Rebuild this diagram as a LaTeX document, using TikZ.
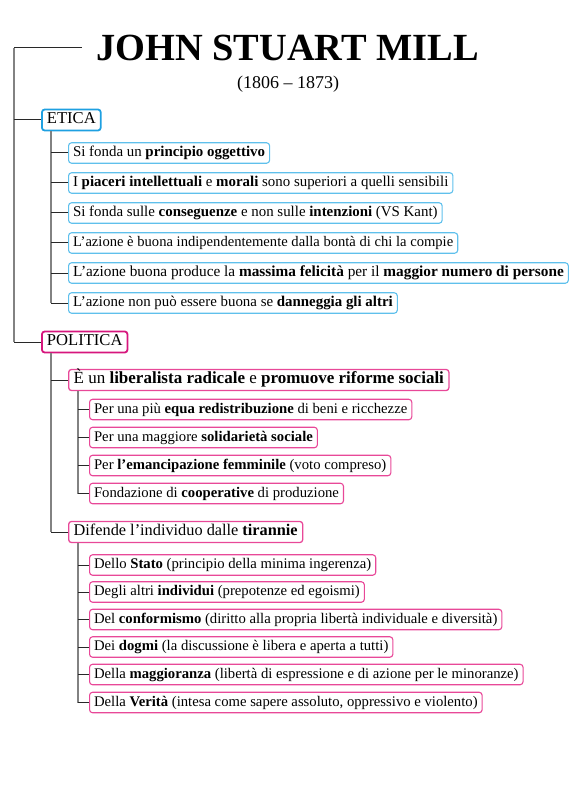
\documentclass[tikz,border=0pt]{standalone}
\usepackage{fontspec}
\setmainfont{Liberation Serif}
\usepackage{xcolor}
\usetikzlibrary{calc}
\definecolor{eticablu}{RGB}{30,160,225}
\definecolor{voceblu}{RGB}{95,192,236}
\definecolor{politrosa}{RGB}{214,22,125}
\definecolor{vocerosa}{RGB}{232,72,152}
\definecolor{ramo}{RGB}{40,40,40}
\definecolor{tronco}{RGB}{130,130,130}
\tikzstyle{capo} = [rectangle, draw, rounded corners=3pt, line width=1.8pt, inner xsep=5pt, minimum height=21pt, text height=11pt, text depth=3.5pt, font=\fontsize{16.6}{18}\selectfont]
\tikzstyle{voce} = [rectangle, draw, rounded corners=3pt, line width=1.1pt, inner xsep=4.5pt, minimum height=20pt, text height=10.5pt, text depth=3.3pt, font=\fontsize{14.9}{16}\selectfont]
\tikzstyle{vocep} = [voce, draw=vocerosa, font=\fontsize{14.7}{16}\selectfont]
\tikzstyle{tr} = [draw=tronco, line width=1.3pt]
\tikzstyle{rm} = [draw=ramo, line width=1pt]

\begin{document}
\begin{tikzpicture}
				[x=1pt, y=-1pt,
				every node/.style={anchor=west, text=black}
				]
				\useasboundingbox (0,0) rectangle (578,799);
				% titolo
				\draw (287.5,48) node[anchor=center, font=\fontsize{38.4}{40}\selectfont\bfseries](titolo){JOHN STUART MILL};
				\draw (288,84) node[anchor=center, font=\fontsize{18}{20}\selectfont](anni){(1806 -- 1873)};
				\coordinate (radice) at (14,48);
				\coordinate (punta) at (82,48);
				% etica
				\draw (41,120) node[capo, draw=eticablu](etica){ETICA};
				\draw (68,153) node[voce, draw=voceblu](e1){Si fonda un \textbf{principio oggettivo}};
				\draw (68,183) node[voce, draw=voceblu](e2){I \textbf{piaceri intellettuali} e \textbf{morali} sono superiori a quelli sensibili};
				\draw (68,213) node[voce, draw=voceblu](e3){Si fonda sulle \textbf{conseguenze} e non sulle \textbf{intenzioni} (VS Kant)};
				\draw (68,243) node[voce, draw=voceblu, font=\fontsize{14.6}{16}\selectfont](e4){L’azione è buona indipendentemente dalla bontà di chi la compie};
				\draw (68,273) node[voce, draw=voceblu, font=\fontsize{15.3}{16}\selectfont](e5){L’azione buona produce la \textbf{massima felicità} per il \textbf{maggior numero di persone}};
				\draw (68,303) node[voce, draw=voceblu](e6){L’azione non può essere buona se \textbf{danneggia gli altri}};
				% politica
				\draw (41,342) node[capo, draw=politrosa](politica){POLITICA};
				\draw (68,380) node[capo, line width=1.3pt, draw=vocerosa, font=\fontsize{17}{18}\selectfont](p1){È un \textbf{liberalista radicale} e \textbf{promuove riforme sociali}};
				\draw (89,409.5) node[vocep](p11){Per una più \textbf{equa redistribuzione} di beni e ricchezze};
				\draw (89,437.5) node[vocep](p12){Per una maggiore \textbf{solidarietà sociale}};
				\draw (89,465.5) node[vocep](p13){Per \textbf{l’emancipazione femminile} (voto compreso)};
				\draw (89,493.5) node[vocep](p14){Fondazione di \textbf{cooperative} di produzione};
				\draw (68,532) node[capo, line width=1.3pt, draw=vocerosa, font=\fontsize{16.3}{18}\selectfont](p2){Difende l’individuo dalle \textbf{tirannie}};
				\draw (89,565) node[vocep](p21){Dello \textbf{Stato} (principio della minima ingerenza)};
				\draw (89,592) node[vocep](p22){Degli altri \textbf{individui} (prepotenze ed egoismi)};
				\draw (89,619.5) node[vocep](p23){Del \textbf{conformismo} (diritto alla propria libertà individuale e diversità)};
				\draw (89,647) node[vocep](p24){Dei \textbf{dogmi} (la discussione è libera e aperta a tutti)};
				\draw (89,674.5) node[vocep](p25){Della \textbf{maggioranza} (libertà di espressione e di azione per le minoranze)};
				\draw (89,702.5) node[vocep](p26){Della \textbf{Verità} (intesa come sapere assoluto, oppressivo e violento)};
				% rami
				\draw[tr] (radice) -- (radice |- politica.west);
				\draw[rm] (radice) -- (punta);
				\foreach \to in {etica,politica}
				\draw[rm] (radice |- \to.west) -- (\to.west);
				\coordinate (ve) at (51,0);
				\coordinate (vp) at (51,0);
				\coordinate (vs) at (78,0);
				\draw[tr] (ve |- etica.south) -- (ve |- e6.west);
				\foreach \to in {e1,e2,e3,e4,e5,e6}
				\draw[rm] (ve |- \to.west) -- (\to.west);
				\draw[tr] (vp |- politica.south) -- (vp |- p2.west);
				\foreach \to in {p1,p2}
				\draw[rm] (vp |- \to.west) -- (\to.west);
				\draw[tr] (vs |- p1.south) -- (vs |- p14.west);
				\foreach \to in {p11,p12,p13,p14}
				\draw[rm] (vs |- \to.west) -- (\to.west);
				\draw[tr] (vs |- p2.south) -- (vs |- p26.west);
				\foreach \to in {p21,p22,p23,p24,p25,p26}
				\draw[rm] (vs |- \to.west) -- (\to.west);
			\end{tikzpicture}
\end{document}
